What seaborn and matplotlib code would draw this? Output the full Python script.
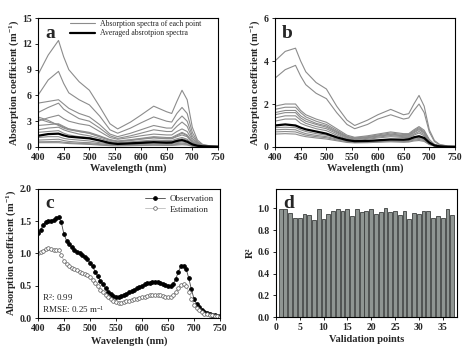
import matplotlib
matplotlib.use("Agg")
import matplotlib.pyplot as plt
import seaborn as sns
import pandas as pd
import numpy as np

# ---------------- data ----------------
wl_ab = [400, 420, 440, 450, 460, 480, 500, 520, 540, 555, 580, 600, 625, 650,
         660, 670, 680, 690, 700, 710, 720, 735, 750]

spectra_a = {
    "a1": [8.4, 10.7, 12.4, 10.5, 9.0, 7.6, 6.6, 4.7, 2.7, 2.1, 2.9, 3.7, 4.75, 4.1, 3.9, 5.3, 6.6, 5.5, 2.3, 0.8, 0.3, 0.12, 0.08],
    "a2": [6.0, 7.8, 8.8, 7.4, 6.3, 5.5, 4.9, 3.6, 2.0, 1.6, 2.2, 2.8, 3.5, 3.0, 2.9, 3.9, 4.6, 3.9, 1.7, 0.6, 0.25, 0.1, 0.07],
    "a3": [5.1, 5.3, 5.5, 5.0, 4.5, 3.9, 3.5, 2.6, 1.5, 1.2, 1.6, 2.0, 2.5, 2.2, 2.2, 3.0, 3.6, 3.0, 1.3, 0.5, 0.2, 0.08, 0.06],
    "a4": [4.0, 4.6, 5.1, 4.4, 4.0, 3.3, 3.0, 2.2, 1.3, 1.0, 1.3, 1.6, 2.0, 1.8, 1.8, 2.4, 2.9, 2.4, 1.0, 0.4, 0.15, 0.07, 0.05],
    "a5": [3.0, 3.4, 3.7, 3.3, 3.0, 2.7, 2.5, 1.8, 1.1, 0.9, 1.1, 1.3, 1.5, 1.4, 1.4, 1.8, 2.1, 1.8, 0.8, 0.3, 0.12, 0.06, 0.05],
    "a6": [3.5, 3.1, 2.5, 2.2, 2.0, 1.8, 1.6, 1.2, 0.8, 0.65, 0.8, 0.95, 1.1, 1.0, 1.0, 1.3, 1.6, 1.3, 0.6, 0.25, 0.1, 0.05, 0.04],
    "a7": [3.3, 2.9, 2.6, 2.3, 2.1, 1.9, 1.7, 1.3, 0.85, 0.7, 0.85, 1.0, 1.2, 1.1, 1.1, 1.4, 1.7, 1.4, 0.6, 0.25, 0.1, 0.05, 0.04],
    "a8": [2.5, 2.6, 2.7, 2.4, 2.1, 1.8, 1.6, 1.2, 0.8, 0.6, 0.75, 0.9, 1.05, 0.95, 0.95, 1.2, 1.4, 1.2, 0.5, 0.2, 0.08, 0.04, 0.03],
    "a9": [2.0, 2.2, 2.3, 2.0, 1.8, 1.5, 1.3, 1.0, 0.65, 0.5, 0.6, 0.7, 0.8, 0.75, 0.75, 0.95, 1.1, 0.9, 0.4, 0.15, 0.07, 0.03, 0.03],
    "a10": [1.7, 1.8, 1.9, 1.6, 1.4, 1.2, 1.1, 0.8, 0.5, 0.4, 0.5, 0.6, 0.7, 0.65, 0.65, 0.8, 0.95, 0.8, 0.35, 0.12, 0.06, 0.03, 0.02],
    "a11": [1.1, 1.2, 1.2, 1.0, 0.9, 0.8, 0.7, 0.5, 0.35, 0.3, 0.35, 0.4, 0.45, 0.42, 0.42, 0.5, 0.6, 0.5, 0.2, 0.08, 0.04, 0.02, 0.02],
    "a12": [0.8, 0.85, 0.9, 0.75, 0.65, 0.55, 0.5, 0.38, 0.25, 0.22, 0.26, 0.3, 0.35, 0.32, 0.32, 0.4, 0.45, 0.38, 0.15, 0.06, 0.03, 0.02, 0.01],
    "a13": [0.6, 0.62, 0.65, 0.55, 0.5, 0.42, 0.38, 0.28, 0.2, 0.17, 0.2, 0.23, 0.26, 0.24, 0.24, 0.3, 0.35, 0.3, 0.12, 0.05, 0.02, 0.01, 0.01],
    "a14": [0.5, 0.5, 0.5, 0.45, 0.4, 0.35, 0.3, 0.22, 0.15, 0.13, 0.15, 0.17, 0.2, 0.18, 0.18, 0.22, 0.26, 0.22, 0.1, 0.04, 0.02, 0.01, 0.01],
}
avg_a = [1.3, 1.5, 1.55, 1.35, 1.2, 1.1, 1.0, 0.75, 0.45, 0.35, 0.42, 0.48, 0.56, 0.5, 0.52, 0.7, 0.8, 0.62, 0.3, 0.14, 0.08, 0.05, 0.03]

spectra_b = {
    "b1": [4.0, 4.45, 4.6, 4.0, 3.5, 3.0, 2.7, 1.9, 1.25, 1.0, 1.25, 1.5, 1.75, 1.5, 1.55, 2.0, 2.4, 1.9, 0.8, 0.3, 0.12, 0.05, 0.03],
    "b2": [3.2, 3.6, 3.8, 3.3, 2.9, 2.5, 2.25, 1.6, 1.05, 0.85, 1.05, 1.3, 1.5, 1.3, 1.35, 1.7, 2.0, 1.6, 0.7, 0.25, 0.1, 0.04, 0.02],
    "b3": [1.9, 2.0, 2.0, 1.7, 1.5, 1.3, 1.15, 0.85, 0.55, 0.45, 0.52, 0.6, 0.7, 0.62, 0.62, 0.8, 0.95, 0.78, 0.35, 0.12, 0.05, 0.02, 0.01],
    "b4": [1.75, 1.85, 1.85, 1.6, 1.4, 1.2, 1.05, 0.78, 0.5, 0.42, 0.48, 0.56, 0.65, 0.58, 0.58, 0.75, 0.9, 0.72, 0.32, 0.11, 0.05, 0.02, 0.01],
    "b5": [1.6, 1.7, 1.7, 1.45, 1.3, 1.1, 0.98, 0.72, 0.47, 0.4, 0.45, 0.52, 0.6, 0.54, 0.55, 0.7, 0.85, 0.68, 0.3, 0.1, 0.04, 0.02, 0.01],
    "b6": [1.5, 1.6, 1.6, 1.35, 1.2, 1.05, 0.92, 0.68, 0.44, 0.37, 0.43, 0.5, 0.57, 0.52, 0.52, 0.66, 0.8, 0.64, 0.28, 0.1, 0.04, 0.02, 0.01],
    "b7": [1.35, 1.45, 1.45, 1.25, 1.1, 0.95, 0.85, 0.62, 0.4, 0.34, 0.4, 0.46, 0.53, 0.48, 0.48, 0.6, 0.72, 0.58, 0.26, 0.09, 0.04, 0.02, 0.01],
    "b8": [1.2, 1.3, 1.3, 1.1, 1.0, 0.85, 0.76, 0.55, 0.36, 0.3, 0.36, 0.42, 0.48, 0.44, 0.44, 0.55, 0.65, 0.52, 0.23, 0.08, 0.03, 0.02, 0.01],
    "b9": [0.9, 0.92, 0.9, 0.8, 0.72, 0.62, 0.55, 0.42, 0.3, 0.25, 0.27, 0.3, 0.33, 0.31, 0.32, 0.4, 0.45, 0.38, 0.17, 0.06, 0.03, 0.01, 0.01],
    "b10": [0.8, 0.82, 0.8, 0.7, 0.62, 0.54, 0.48, 0.37, 0.27, 0.23, 0.25, 0.27, 0.3, 0.28, 0.29, 0.36, 0.4, 0.34, 0.15, 0.05, 0.02, 0.01, 0.01],
    "b11": [0.7, 0.72, 0.7, 0.62, 0.55, 0.48, 0.43, 0.33, 0.24, 0.21, 0.22, 0.24, 0.27, 0.25, 0.26, 0.32, 0.35, 0.3, 0.13, 0.05, 0.02, 0.01, 0.01],
    "b12": [0.6, 0.62, 0.6, 0.53, 0.48, 0.42, 0.37, 0.29, 0.21, 0.19, 0.2, 0.22, 0.24, 0.22, 0.23, 0.28, 0.3, 0.26, 0.11, 0.04, 0.02, 0.01, 0.01],
}
avg_b = [1.0, 1.05, 1.0, 0.9, 0.82, 0.72, 0.62, 0.45, 0.32, 0.27, 0.28, 0.31, 0.35, 0.34, 0.36, 0.45, 0.5, 0.42, 0.2, 0.07, 0.03, 0.01, 0.01]

wl_c = list(range(400, 751, 5))
observation = [1.31, 1.36, 1.44, 1.49, 1.50, 1.51, 1.52, 1.55, 1.56, 1.48, 1.30, 1.20, 1.14, 1.10,
               1.06, 1.03, 1.00, 0.97, 0.94, 0.91, 0.86, 0.80, 0.72, 0.65, 0.58, 0.52, 0.46, 0.41,
               0.37, 0.34, 0.33, 0.33, 0.34, 0.36, 0.38, 0.40, 0.42, 0.44, 0.46, 0.48, 0.50, 0.52,
               0.54, 0.55, 0.56, 0.56, 0.56, 0.55, 0.53, 0.51, 0.50, 0.50, 0.53, 0.60, 0.72, 0.80,
               0.81, 0.76, 0.62, 0.45, 0.30, 0.22, 0.17, 0.13, 0.10, 0.08, 0.06, 0.05, 0.04, 0.03, 0.03]
estimation = [1.00, 1.02, 1.04, 1.07, 1.08, 1.07, 1.06, 1.06, 1.05, 0.98, 0.88, 0.83, 0.80, 0.78,
              0.76, 0.74, 0.72, 0.70, 0.68, 0.66, 0.63, 0.59, 0.54, 0.49, 0.44, 0.40, 0.36, 0.32,
              0.29, 0.27, 0.25, 0.24, 0.24, 0.25, 0.26, 0.27, 0.28, 0.29, 0.30, 0.31, 0.32, 0.33,
              0.34, 0.35, 0.36, 0.36, 0.36, 0.35, 0.34, 0.33, 0.33, 0.33, 0.35, 0.40, 0.46, 0.51,
              0.52, 0.49, 0.41, 0.30, 0.21, 0.15, 0.12, 0.09, 0.07, 0.06, 0.05, 0.04, 0.03, 0.03, 0.02]

points = list(range(1, 38))
r2 = [0.99, 0.99, 0.96, 0.91, 0.91, 0.95, 0.94, 0.89, 0.99, 0.90, 0.95, 0.98, 0.99, 0.98,
      0.99, 0.93, 0.99, 0.97, 0.98, 0.99, 0.95, 0.97, 1.00, 0.97, 0.98, 0.94, 0.98, 0.90,
      0.96, 0.95, 0.98, 0.98, 0.91, 0.93, 0.91, 0.99, 0.94]

# ---------------- style ----------------
sns.set_theme(style="ticks")
plt.rcParams["font.family"] = ["Liberation Serif", "DejaVu Serif"]
plt.rcParams["mathtext.fontset"] = "custom"
plt.rcParams["mathtext.rm"] = "Liberation Serif"
plt.rcParams["mathtext.bf"] = "Liberation Serif:bold"
plt.rcParams["mathtext.it"] = "Liberation Serif:italic"

TICK_FS = 7
LAB_FS = 7.5
fig = plt.figure(figsize=(4.74, 3.55), dpi=100)
ax_a = fig.add_axes([0.080, 0.586, 0.380, 0.363])
ax_b = fig.add_axes([0.580, 0.586, 0.380, 0.363])
ax_c = fig.add_axes([0.080, 0.104, 0.384, 0.364])
ax_d = fig.add_axes([0.582, 0.107, 0.382, 0.361])

ylab = r"Absorption coefficient (m$^{\mathbf{-1}}$)"


def long_df(spec, wl):
    rows = []
    for name, vals in spec.items():
        for w, v in zip(wl, vals):
            rows.append((name, w, v))
    return pd.DataFrame(rows, columns=["curve", "wl", "val"])


def style_axis(ax):
    for s in ax.spines.values():
        s.set_visible(True)
        s.set_color("black")
        s.set_linewidth(0.8)
    ax.tick_params(axis="both", labelsize=TICK_FS, length=2.5, width=0.7, pad=2)
    for lab in ax.get_xticklabels() + ax.get_yticklabels():
        lab.set_fontweight("bold")


# ---- panel a ----
df_a = long_df(spectra_a, wl_ab)
sns.lineplot(data=df_a, x="wl", y="val", units="curve", estimator=None,
             color="#8c8c8c", lw=0.8, ax=ax_a, legend=False)
sns.lineplot(x=wl_ab, y=avg_a, color="black", lw=1.6, ax=ax_a)
ax_a.set_xlim(400, 750)
ax_a.set_ylim(0, 15)
ax_a.set_xticks(range(400, 751, 50))
ax_a.set_yticks(range(0, 16, 3))
ax_a.set_xlabel("Wavelength (nm)", fontsize=LAB_FS, fontweight="bold", labelpad=1)
ax_a.set_ylabel(ylab, fontsize=LAB_FS, fontweight="bold", labelpad=1)
ax_a.text(0.04, 0.95, "a", transform=ax_a.transAxes, fontsize=14, fontweight="bold",
          va="top", ha="left")
h1, = ax_a.plot([], [], color="#8c8c8c", lw=0.8)
h2, = ax_a.plot([], [], color="black", lw=1.6)
ax_a.legend([h1, h2], ["Absorption spectra of each point", "Averaged absrotpion spectra"],
            loc="upper left", bbox_to_anchor=(0.15, 1.02), frameon=False, fontsize=5.6,
            handlelength=3.3, labelspacing=0.15, handletextpad=0.6, borderaxespad=0.2)
style_axis(ax_a)

# ---- panel b ----
df_b = long_df(spectra_b, wl_ab)
sns.lineplot(data=df_b, x="wl", y="val", units="curve", estimator=None,
             color="#8c8c8c", lw=0.8, ax=ax_b, legend=False)
sns.lineplot(x=wl_ab, y=avg_b, color="black", lw=1.6, ax=ax_b)
ax_b.set_xlim(400, 750)
ax_b.set_ylim(0, 6)
ax_b.set_xticks(range(400, 751, 50))
ax_b.set_yticks(range(0, 7, 2))
ax_b.set_xlabel("Wavelength (nm)", fontsize=LAB_FS, fontweight="bold", labelpad=1)
ax_b.set_ylabel(ylab, fontsize=LAB_FS, fontweight="bold", labelpad=1)
ax_b.text(0.04, 0.95, "b", transform=ax_b.transAxes, fontsize=14, fontweight="bold",
          va="top", ha="left")
style_axis(ax_b)

# ---- panel c ----
sns.lineplot(x=wl_c, y=observation, color="#444444", lw=0.6, marker="o", markersize=2.6,
             markerfacecolor="black", markeredgecolor="black", ax=ax_c, label="Observation")
sns.lineplot(x=wl_c, y=estimation, color="#bbbbbb", lw=0.6, marker="o", markersize=2.6,
             markerfacecolor="white", markeredgecolor="#555555", markeredgewidth=0.5,
             ax=ax_c, label="Estimation")
ax_c.set_xlim(400, 750)
ax_c.set_ylim(0, 2.0)
ax_c.set_xticks(range(400, 751, 50))
ax_c.set_yticks([0.0, 0.5, 1.0, 1.5, 2.0])
ax_c.set_yticklabels(["0.0", "0.5", "1.0", "1.5", "2.0"])
ax_c.set_xlabel("Wavelength (nm)", fontsize=LAB_FS, fontweight="bold", labelpad=2)
ax_c.set_ylabel(ylab, fontsize=LAB_FS, fontweight="bold", labelpad=1)
ax_c.text(0.04, 0.95, "c", transform=ax_c.transAxes, fontsize=14, fontweight="bold",
          va="top", ha="left")
ax_c.text(0.02, 0.12, r"R$^2$: 0.99", transform=ax_c.transAxes, fontsize=6.5, va="bottom")
ax_c.text(0.02, 0.02, r"RMSE: 0.25 m$^{-1}$", transform=ax_c.transAxes, fontsize=6.5, va="bottom")
ax_c.legend(loc="upper right", frameon=False, fontsize=6.5, handlelength=2.2,
            labelspacing=0.2, handletextpad=0.5, borderaxespad=0.3)
style_axis(ax_c)

# ---- panel d ----
df_d = pd.DataFrame({"point": points, "r2": r2})
sns.barplot(data=df_d, x="point", y="r2", native_scale=True, color="#8f9592",
            saturation=1, width=0.8, edgecolor="#3c3f3e", linewidth=0.6, ax=ax_d)
ax_d.set_xlim(0, 38)
ax_d.set_ylim(0, 1.18)
ax_d.set_xticks(range(0, 36, 5))
ax_d.set_xticklabels([str(v) for v in range(0, 36, 5)])
ax_d.set_yticks([0.0, 0.2, 0.4, 0.6, 0.8, 1.0])
ax_d.set_yticklabels(["0.0", "0.2", "0.4", "0.6", "0.8", "1.0"])
ax_d.set_xlabel("Validation points", fontsize=LAB_FS, fontweight="bold", labelpad=2)
ax_d.set_ylabel("R²", fontsize=LAB_FS, fontweight="bold", labelpad=2)
ax_d.text(0.04, 0.95, "d", transform=ax_d.transAxes, fontsize=14, fontweight="bold",
          va="top", ha="left")
style_axis(ax_d)

fig.savefig("out.png", dpi=100)
